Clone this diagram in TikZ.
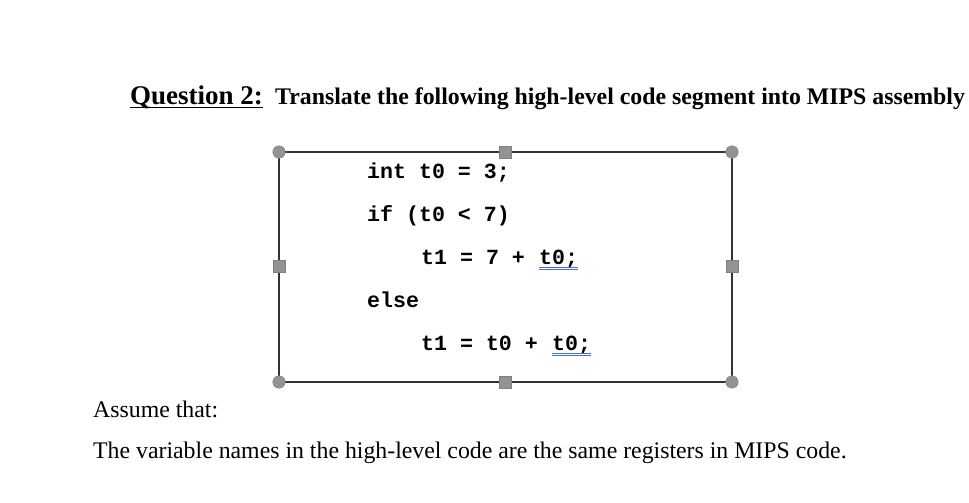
\documentclass[tikz,border=0pt]{standalone}
\usepackage{fontspec}
\setmainfont{Liberation Serif}
\newfontfamily\codefont{Liberation Mono}
\definecolor{wordblue}{RGB}{68,114,196}
\begin{document}
\begin{tikzpicture}[x=1pt,y=-1pt,
  code/.style={anchor=base west,inner sep=0pt,font=\codefont\bfseries\fontsize{21.6}{24}\selectfont},
  body/.style={anchor=base west,inner sep=0pt,font=\fontsize{23.8}{28}\selectfont},
  hcirc/.style={circle,fill=gray!85,draw=gray,minimum size=12.5pt,inner sep=0pt},
  hsq/.style={rectangle,fill=gray!85,draw=gray,minimum size=12pt,inner sep=0pt},
  uline/.style={draw=wordblue,line width=0.7pt}]
\useasboundingbox (0,0) rectangle (969,503);
\node[anchor=base west,inner sep=0pt,font=\bfseries\fontsize{27}{30}\selectfont] (q) at (130,104) {Question 2:};
\draw[line width=1.3pt] (q.south west)++(0,-1) coordinate (u1) -- (q.south east|-u1);
\node[anchor=base west,inner sep=0pt,font=\bfseries\fontsize{23.8}{28}\selectfont] (t) at (275,104) {Translate the following high-level code segment into MIPS assembly};
\draw[line width=1.2pt,draw=black!80] (279,152) rectangle (732,382);
\node[hcirc] (c1) at (279,152) {}; \node[hcirc] (c2) at (732,152) {};
\node[hcirc] (c3) at (279,382) {}; \node[hcirc] (c4) at (732,382) {};
\node[hsq] (s1) at (505,152) {}; \node[hsq] (s2) at (505,382) {};
\node[hsq] (s3) at (279,266) {}; \node[hsq] (s4) at (732,266) {};
\node[code] (l1) at (367,178) {int t0 = 3;};
\node[code] (l2) at (367,221) {if (t0 < 7)};
\node[code] (l3a) at (421,264) {t1 = 7 +};
\node[code] (l3b) at (539,264) {t0;};
\node[code] (l4) at (367,307) {else};
\node[code] (l5a) at (421,350) {t1 = t0 +};
\node[code] (l5b) at (552,350) {t0;};
\foreach \n in {l3b,l5b}{
  \draw[uline] ([yshift=-3pt]\n.base west) -- ([yshift=-3pt]\n.base east);
  \draw[uline] ([yshift=-5.5pt]\n.base west) -- ([yshift=-5.5pt]\n.base east);
}
\node[body] (a1) at (93,417) {Assume that:};
\node[body] (a2) at (93,458) {The variable names in the high-level code are the same registers in MIPS code.};
\end{tikzpicture}
\end{document}
